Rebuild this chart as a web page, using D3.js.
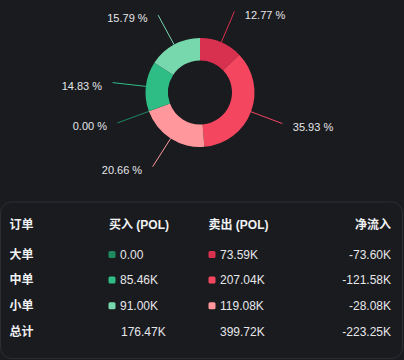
<!DOCTYPE html>
<html><head><meta charset="utf-8">
<script src="https://cdn.jsdelivr.net/npm/d3@7"></script>
<style>
html,body{margin:0;padding:0;background:#1a1b1f;}
svg{display:block;}
text{font-family:"Liberation Sans",Arial,"Noto Sans CJK SC",sans-serif;}
</style></head>
<body><svg id="c" width="404" height="360"></svg>
<script>
// Donut slices (clockwise from top)
const sliceNames = ["大单卖出","中单卖出","小单卖出","大单买入","中单买入","小单买入"];
const slicePercents = [12.77, 35.93, 20.66, 0.00, 14.83, 15.79];
const sliceColors = ["#d8304f","#f4465f","#ff979c","#1d8a5f","#2ebd85","#77d7ad"];

// Table
const headers = ["订单","买入 (POL)","卖出 (POL)","净流入"];
const rowLabels = ["大单","中单","小单"];
const buyValues = [0.00, 85.46, 91.00];   // K POL
const sellValues = [73.59, 207.04, 119.08];
const netValues = [-73.60, -121.58, -28.08];
const buyColors = ["#1d8a5f","#2ebd85","#77d7ad"];
const sellColors = ["#d8304f","#f4465f","#ff979c"];
const totalLabel = "总计";
const totals = {buy:176.47, sell:399.72, net:-223.25};

const svg = d3.select("#c");
const cx = 200, cy = 92.5, rOut = 54.5, rIn = 32;
const g = svg.append("g").attr("transform", `translate(${cx},${cy})`);
const pie = d3.pie().sort(null).value(d => d.v);
const data = pie(slicePercents.map((v,i)=>({v, name:sliceNames[i], c:sliceColors[i]})));
const arc = d3.arc().innerRadius(rIn).outerRadius(rOut);
g.selectAll("path.s").data(data).join("path").attr("class","s")
  .attr("d", arc).attr("fill", d=>d.data.c);

const pt = (a, r) => [r*Math.sin(a), -r*Math.cos(a)];
data.forEach(d=>{
  const a = (d.startAngle + d.endAngle)/2;
  const p0 = pt(a, rOut), p1 = pt(a, 88);
  g.append("line").attr("x1",p0[0]).attr("y1",p0[1]).attr("x2",p1[0]).attr("y2",p1[1])
    .attr("stroke", d.data.c).attr("stroke-width",1);
  const right = Math.sin(a) >= 0;
  g.append("text").attr("x", p1[0] + (right?10.5:-10.5)).attr("y", p1[1]+3)
    .attr("text-anchor", right?"start":"end").attr("dominant-baseline","central")
    .attr("font-size",11).attr("fill","#e4e5e8")
    .text(d3.format(".2f")(d.data.v) + " %");
});

// Table box
svg.append("rect").attr("x",0.5).attr("y",202).attr("width",402).attr("height",156.5)
  .attr("rx",11).attr("fill","none").attr("stroke","#2c2e34").attr("stroke-width",1);

const fmtK = v => v === 0 ? "0.00" : (v<0?"-":"") + Math.abs(v).toFixed(2) + "K";
const colX = {label:9.5, buy:109, sell:208.5, net:391};
const headY = 224.5;
const rowY = [254.5, 280, 305.8];
const totY = 331.7;
const txtCol = "#e6e7ea";
const headCol = "#f0f1f3";

// header
[[headers[0],colX.label,"start"],[headers[1],colX.buy,"start"],[headers[2],colX.sell,"start"],[headers[3],colX.net,"end"]]
  .forEach(([t,x,anc])=>{
    svg.append("text").attr("x",x).attr("y",headY).attr("dominant-baseline","central")
      .attr("text-anchor",anc).attr("font-size",12).attr("font-weight","bold")
      .attr("fill",headCol).text(t);
  });

rowLabels.forEach((lab,i)=>{
  const y = rowY[i];
  svg.append("text").attr("x",colX.label).attr("y",y).attr("dominant-baseline","central")
    .attr("font-size",12).attr("font-weight","bold").attr("fill",headCol).text(lab);
  svg.append("rect").attr("x",108.5).attr("y",y-3.5).attr("width",7).attr("height",7).attr("rx",1.5)
    .attr("fill",buyColors[i]);
  svg.append("text").attr("x",120).attr("y",y).attr("dominant-baseline","central")
    .attr("font-size",12).attr("fill",txtCol).text(fmtK(buyValues[i]));
  svg.append("rect").attr("x",208.5).attr("y",y-3.5).attr("width",7).attr("height",7).attr("rx",1.5)
    .attr("fill",sellColors[i]);
  svg.append("text").attr("x",220).attr("y",y).attr("dominant-baseline","central")
    .attr("font-size",12).attr("fill",txtCol).text(fmtK(sellValues[i]));
  svg.append("text").attr("x",colX.net).attr("y",y).attr("dominant-baseline","central")
    .attr("text-anchor","end").attr("font-size",12).attr("fill",txtCol).text(fmtK(netValues[i]));
});
svg.append("text").attr("x",colX.label).attr("y",totY).attr("dominant-baseline","central")
  .attr("font-size",12).attr("font-weight","bold").attr("fill",headCol).text(totalLabel);
svg.append("text").attr("x",121).attr("y",totY).attr("dominant-baseline","central")
  .attr("font-size",12).attr("fill",txtCol).text(fmtK(totals.buy));
svg.append("text").attr("x",220).attr("y",totY).attr("dominant-baseline","central")
  .attr("font-size",12).attr("fill",txtCol).text(fmtK(totals.sell));
svg.append("text").attr("x",colX.net).attr("y",totY).attr("dominant-baseline","central")
  .attr("text-anchor","end").attr("font-size",12).attr("fill",txtCol).text(fmtK(totals.net));
</script></body></html>
